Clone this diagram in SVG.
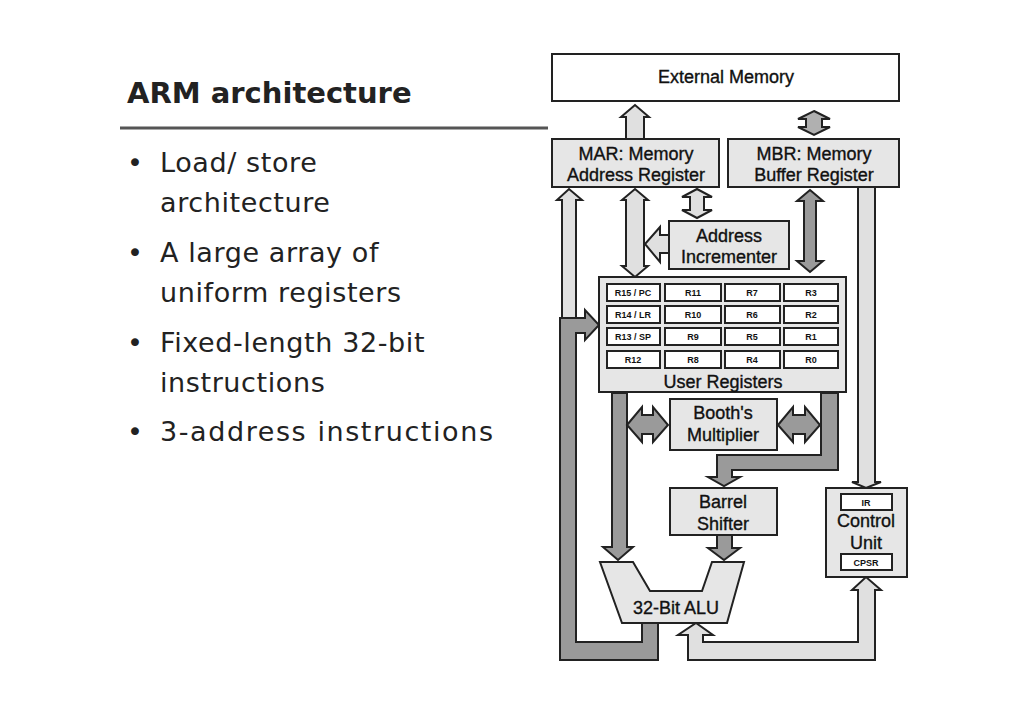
<svg xmlns="http://www.w3.org/2000/svg" width="1024" height="724" viewBox="0 0 1024 724">
<style>
.t{font-family:"DejaVu Sans",sans-serif;fill:#222}
.b{fill:#e6e6e6;stroke:#222;stroke-width:2}
.w{fill:#fff;stroke:#222;stroke-width:2}
.l{fill:#e0e0e0;stroke:#222;stroke-width:2;stroke-linejoin:miter}
.d{fill:#9a9a9a;stroke:#222;stroke-width:2}
.lab{font-family:"Liberation Sans",Arial,sans-serif;font-size:18px;fill:#111;stroke:#111;stroke-width:0.35;text-anchor:middle}
.r{font-family:"Liberation Sans",Arial,sans-serif;font-size:9px;font-weight:bold;fill:#111;text-anchor:middle}
</style>
<rect width="1024" height="724" fill="#fff"/>
<g id="title">
<text class="t" x="127" y="103" font-size="29" font-weight="bold">ARM architecture</text>
<line x1="120" y1="128" x2="548" y2="128" stroke="#555" stroke-width="3"/>
</g>
<g id="bullets" class="t" font-size="27">
<text x="127" y="172">•</text><text x="160" y="172" letter-spacing="0.6">Load/ store</text>
<text x="160" y="212" letter-spacing="0.6">architecture</text>
<text x="127" y="262">•</text><text x="160" y="262" letter-spacing="0.6">A large array of</text>
<text x="160" y="302" letter-spacing="0.6">uniform registers</text>
<text x="127" y="352">•</text><text x="160" y="352" letter-spacing="0.6">Fixed-length 32-bit</text>
<text x="160" y="392" letter-spacing="0.6">instructions</text>
<text x="127" y="441">•</text><text x="160" y="441" textLength="333" lengthAdjust="spacing">3-address instructions</text>
</g>
<g id="connectors">
<path class="d" d="M642,623 L642,642 L576,642 L576,333 L585,333 L585,340 L599,325 L585,310 L585,318 L560,318 L560,660 L658,660 L658,623 Z"/>
<path class="l" d="M562,318 L562,200 L557,200 L569,189 L582,200 L576,200 L576,318 Z"/>
<path class="l" d="M626,139 L626,117 L621,117 L635,105 L649,117 L644,117 L644,139 Z"/>
<path d="M814,111 L830,119 L822,119 L822,127 L830,127 L814,135 L798,127 L806,127 L806,119 L798,119 Z" fill="#b0b0b0" stroke="#222" stroke-width="2"/>
<path class="l" d="M635,189 L648,200 L644,200 L644,266 L648,266 L635,277 L622,266 L626,266 L626,200 L622,200 Z"/>
<path class="l" d="M697,189 L712,197 L704,197 L704,210 L712,210 L697,218 L682,210 L690,210 L690,197 L682,197 Z"/>
<path class="l" d="M669,235 L660,235 L660,227 L645,244 L660,262 L660,253 L669,253 Z"/>
<path class="d" d="M810,190 L823,201 L816,201 L816,261 L823,261 L810,272 L797,261 L804,261 L804,201 L797,201 Z"/>
<path class="l" d="M858,187 L858,482 L852,482 L866,488 L881,482 L875,482 L875,187 Z"/>
<path class="d" d="M612,393 L612,547 L603,547 L618,560 L633,547 L627,547 L627,393 Z"/>
<path class="d" d="M627,425 L642,407 L642,415 L653,415 L653,407 L668,425 L653,442 L653,434 L642,434 L642,442 Z"/>
<path class="d" d="M778,425 L793,407 L793,415 L805,415 L805,407 L820,425 L805,442 L805,434 L793,434 L793,442 Z"/>
<path class="d" d="M821,393 L838,393 L838,470 L732,470 L732,477 L740,477 L724,486 L708,477 L717,477 L717,455 L821,455 Z"/>
<path class="d" d="M717,535 L717,548 L708,548 L724,560 L740,548 L732,548 L732,535 Z"/>
<path class="l" d="M858,590 L852,590 L866,577 L881,590 L875,590 L875,660 L688,660 L688,635 L678,635 L696,623 L713,635 L703,635 L703,642 L858,642 Z"/>
</g>
<g id="external-memory"><rect class="w" x="552" y="54" width="347" height="47"/><text class="lab" x="726" y="83">External Memory</text></g>
<g id="mar"><rect class="b" x="552" y="139" width="167" height="48"/><text class="lab" x="636" y="160">MAR: Memory</text><text class="lab" x="636" y="181">Address Register</text></g>
<g id="mbr"><rect class="b" x="728" y="139" width="171" height="48"/><text class="lab" x="814" y="160">MBR: Memory</text><text class="lab" x="814" y="181">Buffer Register</text></g>
<g id="address-incrementer"><rect class="b" x="669" y="221" width="120" height="48"/><text class="lab" x="729" y="242">Address</text><text class="lab" x="729" y="263">Incrementer</text></g>
<g id="user-registers">
<rect class="b" x="599" y="277" width="247" height="115"/>
<g class="w">
<rect x="607" y="284" width="53" height="17"/><rect x="665" y="284" width="56" height="17"/><rect x="725" y="284" width="55" height="17"/><rect x="784" y="284" width="54" height="17"/>
<rect x="607" y="306" width="53" height="17"/><rect x="665" y="306" width="56" height="17"/><rect x="725" y="306" width="55" height="17"/><rect x="784" y="306" width="54" height="17"/>
<rect x="607" y="328" width="53" height="17"/><rect x="665" y="328" width="56" height="17"/><rect x="725" y="328" width="55" height="17"/><rect x="784" y="328" width="54" height="17"/>
<rect x="607" y="351" width="53" height="17"/><rect x="665" y="351" width="56" height="17"/><rect x="725" y="351" width="55" height="17"/><rect x="784" y="351" width="54" height="17"/>
</g>
<text class="r" x="633" y="296">R15 / PC</text><text class="r" x="693" y="296">R11</text><text class="r" x="752" y="296">R7</text><text class="r" x="811" y="296">R3</text>
<text class="r" x="633" y="318">R14 / LR</text><text class="r" x="693" y="318">R10</text><text class="r" x="752" y="318">R6</text><text class="r" x="811" y="318">R2</text>
<text class="r" x="633" y="340">R13 / SP</text><text class="r" x="693" y="340">R9</text><text class="r" x="752" y="340">R5</text><text class="r" x="811" y="340">R1</text>
<text class="r" x="633" y="363">R12</text><text class="r" x="693" y="363">R8</text><text class="r" x="752" y="363">R4</text><text class="r" x="811" y="363">R0</text>
<text class="lab" x="723" y="388">User Registers</text>
</g>
<g id="booth"><rect class="b" x="670" y="399" width="107" height="51"/><text class="lab" x="723" y="419">Booth's</text><text class="lab" x="723" y="441">Multiplier</text></g>
<g id="barrel"><rect class="b" x="670" y="488" width="107" height="47"/><text class="lab" x="723" y="508">Barrel</text><text class="lab" x="723" y="530">Shifter</text></g>
<g id="alu"><polygon class="b" points="600,562 633,562 650,591 702,591 712,562 744,562 727,623 622,623"/><text class="lab" x="676" y="614">32-Bit ALU</text></g>
<g id="control-unit"><rect class="b" x="826" y="488" width="81" height="89"/>
<rect class="w" x="841" y="494" width="51" height="16"/><text class="r" x="866" y="506">IR</text>
<text class="lab" x="866" y="527">Control</text><text class="lab" x="866" y="549">Unit</text>
<rect class="w" x="841" y="554" width="51" height="16"/><text class="r" x="866" y="566">CPSR</text></g>
</svg>
